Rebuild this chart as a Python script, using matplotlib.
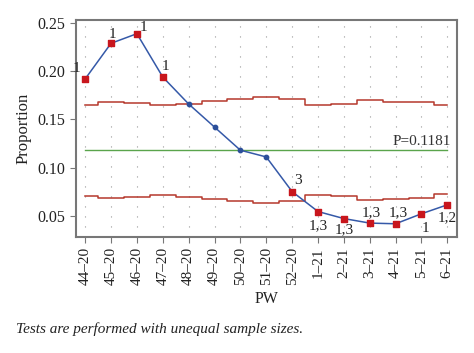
import matplotlib.pyplot as plt
import numpy as np

plt.rcParams['font.family'] = ['Liberation Serif', 'DejaVu Serif']

weeks = ['44\u201320', '45\u201320', '46\u201320', '47\u201320', '48\u201320', '49\u201320',
         '50\u201320', '51\u201320', '52\u201320', '1\u201321', '2\u201321', '3\u201321',
         '4\u201321', '5\u201321', '6\u201321']
proportion = [0.192, 0.229, 0.239, 0.194, 0.166, 0.142, 0.118, 0.111, 0.075,
              0.0543, 0.047, 0.0423, 0.0416, 0.052, 0.0613]
ucl = [0.165, 0.1676, 0.1666, 0.1645, 0.1658, 0.169, 0.171, 0.1734, 0.1707,
       0.1645, 0.1661, 0.1697, 0.168, 0.168, 0.1645]
lcl = [0.070, 0.0682, 0.0692, 0.0713, 0.0692, 0.0675, 0.0654, 0.063, 0.0657,
       0.0713, 0.070, 0.0667, 0.0675, 0.0685, 0.072]
p_bar = 0.1181
flags = ['1', '1', '1', '1', '', '', '', '', '3', '1,3', '1,3', '1,3', '1,3', '1', '1,2']
# label offsets in points (dx, dy)
offsets = [(-6, 3), (1, 2), (5, 0), (2, 3), None, None, None, None, (4, 3),
           (0, -15), (0, -13), (1, 3), (2, 3), (3, -15), (0, -14)]

x = np.arange(len(weeks))
out = np.array([f != '' for f in flags])
prop = np.array(proportion)

fig = plt.figure(figsize=(4.74, 3.53), dpi=100)
ax = fig.add_axes([0.160, 0.329, 0.804, 0.614])

ax.step(x, ucl, where='mid', color='#b5382c', lw=1.1)
ax.step(x, lcl, where='mid', color='#b5382c', lw=1.1)
ax.plot([x[0], x[-1]], [p_bar, p_bar], color='#5aa44c', lw=1.0)
ax.text(x[-1] + 0.12, p_bar + 0.002, 'P=0.1181', ha='right', va='bottom', fontsize=11,
        color='#333333')

ax.plot(x, proportion, color='#3559a8', lw=1.1, zorder=3)
ax.scatter(x[out], prop[out], marker='s', s=18, color='#c8161d', zorder=4)
ax.scatter(x[~out], prop[~out], marker='o', s=10, color='#2c4f9a', zorder=4)

for i, f in enumerate(flags):
    if f:
        ax.annotate(f, (x[i], proportion[i]), xytext=offsets[i], textcoords='offset points',
                    ha='center', va='bottom', fontsize=11, color='#222222')

ax.set_xlim(-0.36, len(weeks) - 1 + 0.37)
ax.set_ylim(0.028, 0.2531)
ax.set_yticks([0.05, 0.10, 0.15, 0.20, 0.25])
ax.set_yticklabels(['0.05', '0.10', '0.15', '0.20', '0.25'])
ax.set_xticks(x)
ax.set_xticklabels(weeks, rotation=90)
ax.tick_params(labelsize=11, colors='#777777', labelcolor='#222222', length=4)
ax.tick_params(axis='y', labelsize=11.5)
ax.grid(axis='x', color='#999999', linestyle=(0, (1, 8)), lw=0.8)
for s in ax.spines.values():
    s.set_color('#777777')
    s.set_linewidth(1.5)

ax.set_ylabel('Proportion', fontsize=12, color='#222222')
ax.set_xlabel('PW', fontsize=11.5, color='#222222', labelpad=4)
fig.text(0.034, 0.058, 'Tests are performed with unequal sample sizes.', fontsize=11,
         style='italic', color='#222222')

fig.savefig('out.png', dpi=100)
